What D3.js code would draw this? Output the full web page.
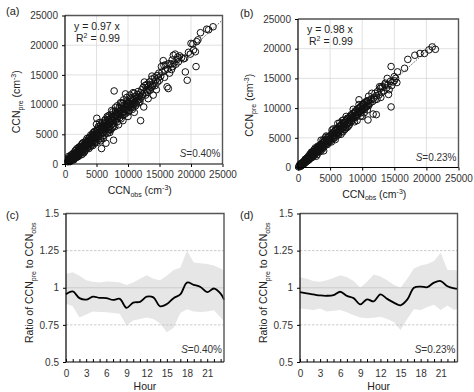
<!DOCTYPE html>
<html><head><meta charset="utf-8">
<script src="https://cdn.jsdelivr.net/npm/d3@7/dist/d3.min.js"></script>
<style>body{margin:0;background:#fff}svg{display:block;font-family:"Liberation Sans",Arial,sans-serif}</style>
</head><body><svg id="chart" width="474" height="392"></svg>
<script>
// ---------------- data ----------------
const scatterTicks = [0, 5000, 10000, 15000, 20000, 25000];
const ratioTicks = [0.5, 0.75, 1, 1.25, 1.5];
const ratioTickLabels = ["0.5", "0.75", "1", "1.25", "1.5"];
const hourTicks = [0, 3, 6, 9, 12, 15, 18, 21];
const hours = [0,1,2,3,4,5,6,7,8,9,10,11,12,13,14,15,16,17,18,19,20,21,22,23,23.5];

const ratioC = [0.956,0.975,0.93,0.92,0.94,0.932,0.93,0.918,0.925,0.865,0.90,0.905,0.94,0.935,0.875,0.89,0.93,0.955,1.035,1.02,1.005,0.97,0.995,0.96,0.92];
const upperC = [1.095,1.105,1.08,1.05,1.04,1.035,1.042,1.04,1.035,1.018,1.035,1.06,1.085,1.06,1.05,1.08,1.12,1.135,1.25,1.17,1.165,1.16,1.15,1.13,1.115];
const lowerC = [0.893,0.875,0.80,0.82,0.84,0.837,0.835,0.83,0.825,0.745,0.78,0.79,0.80,0.79,0.76,0.70,0.73,0.83,0.855,0.84,0.837,0.84,0.848,0.80,0.775];

const ratioD = [0.97,0.962,0.955,0.948,0.946,0.95,0.973,0.945,0.93,0.888,0.922,0.908,0.955,0.925,0.90,0.882,0.92,1.0,1.008,1.004,1.035,1.045,1.01,0.995,0.992];
const upperD = [1.07,1.06,1.045,1.04,1.05,1.065,1.085,1.07,1.045,1.00,1.04,1.09,1.075,1.05,1.02,1.0,1.06,1.13,1.15,1.16,1.18,1.235,1.12,1.12,1.115];
const lowerD = [0.86,0.855,0.85,0.86,0.84,0.845,0.85,0.835,0.815,0.80,0.795,0.798,0.805,0.79,0.77,0.715,0.79,0.855,0.85,0.87,0.885,0.85,0.88,0.85,0.86];

const slopeA = 0.97, slopeB = 0.98;

// [CCN_obs, CCN_pre] pairs, S = 0.40 %
const ptsA = [
[450,380],[520,600],[600,450],[650,700],[700,520],[750,900],[800,650],[850,800],[900,1050],[950,700],[1000,900],[1050,1200],[1100,800],[1150,1000],[1200,1350],[1250,1100],[1300,900],[1350,1500],[1400,1200],[1450,1000],[1500,1600],[1550,1350],[1600,1100],[1650,1800],[1700,1500],[1750,1250],[1800,1900],[1850,1600],[1900,1400],[1950,2100],[2000,1700],[2050,1900],[2100,2400],[2150,1500],[2200,2000],[2250,2300],[2300,1800],[2350,2600],[2400,2100],[2450,2300],[2500,2800],[700,1100],[1000,1500],[1300,1800],[1600,2200],[1900,2600],[2200,2800],[600,900],[900,600],[1200,700],[1500,900],[1800,1100],[2100,1300],[2400,1500],[2700,1600],
[2600,2400],[2700,2900],[2800,2200],[2900,3100],[3000,2700],[3100,3400],[3200,2900],[3300,2500],[3400,3600],[3500,3100],[3600,3300],[3700,3900],[3800,3000],[3900,3600],[4000,4200],[4100,3500],[4200,3900],[4300,4600],[4400,3700],[4500,4200],[4600,4900],[4700,4000],[4800,4500],[4900,5200],[5000,4300],[2800,3500],[3100,2100],[3500,4300],[3800,2600],[4100,4900],[4400,3100],[4700,5500],[5000,3600],[3300,3900],[3600,2700],[3900,4500],[4200,3200],[4500,5300],[4800,3800],[3000,1900],[2650,3300],[3450,3200],[4050,3800],[4650,4600],[4350,5000],[2950,2500],[3750,3300],[4250,4300],[4750,4300],[4950,4800],
[5100,5000],[5200,5600],[5300,4600],[5400,5300],[5500,6000],[5600,5000],[5700,5700],[5800,6300],[5900,5200],[6000,5900],[6100,6500],[6200,5500],[6300,6100],[6400,6800],[6500,5800],[6600,6400],[6700,7100],[6800,6000],[6900,6700],[7000,7400],[7100,6300],[7200,7000],[7300,7700],[7400,6600],[7500,7300],[7600,8000],[7700,6900],[7800,7600],[7900,8300],[8000,7200],[5050,7700],[5000,6700],[5800,2600],[6500,3500],[7700,4000],[7800,12300],[5600,4300],[6200,4800],[6800,5200],[7300,5800],[7900,6300],[5300,6300],[5900,6900],[6400,7500],[7000,8200],[7600,8800],[6100,4300],[7100,5300],[5500,7000],[6700,8000],[7400,9000],[5700,3900],[6300,7300],[6900,5600],[7500,6100],[8000,8800],[5150,5900],[6050,5200],[6850,7500],[7650,7300],
[8100,8100],[8200,7600],[8300,8600],[8400,8000],[8500,9100],[8600,8300],[8700,7800],[8800,9000],[8900,8500],[9000,9600],[9100,8700],[9200,8200],[9300,9300],[9400,8800],[9500,10000],[9600,9200],[9700,8600],[9800,9700],[9900,9200],[10000,10400],[10100,9600],[10200,9000],[10300,10100],[10400,9700],[10500,10900],[10600,10100],[10700,9500],[10800,10600],[10900,10000],[11000,11300],[11100,10400],[11200,9800],[11300,11000],[11400,10500],[11500,11700],[11600,10800],[11700,10300],[11800,11400],[11900,10900],[12000,12000],[8300,9800],[8800,10300],[9300,10800],[9800,11200],[10300,11600],[8500,6600],[9200,7300],[10000,8000],[11000,8700],[12000,7300],[9600,11800],[10800,12000],[8000,9500],[9000,10300],
[12100,11300],[12200,12500],[12300,11700],[12400,12900],[12500,9600],[12600,12000],[12700,13200],[12800,11600],[12900,12500],[13000,13400],[13100,12100],[13200,13000],[13300,12600],[13400,13800],[13500,12400],[13600,13300],[13700,12900],[13800,14300],[13900,13100],[14000,11600],[14100,13600],[14200,14500],[14300,13200],[14400,14100],[14500,12500],[14600,14900],[14700,13800],[14800,14500],[14900,15300],[15000,14100],[12600,13800],[13200,11000],[13800,14800],
[15200,14800],[15400,15500],[15600,17400],[15700,16600],[15800,14600],[15900,15800],[16000,16700],[16200,13000],[16300,16000],[16400,12700],[16500,16900],[16600,15300],[16800,16800],[17000,17500],[17100,16400],[17200,18300],[17300,17000],[17500,18500],[17600,16800],[17800,17600],[17900,18000],[18000,17200],[15300,16400],[16900,15900],
[18200,18200],[18500,17900],[18800,17700],[19000,17800],[19100,15500],[19400,14100],[19600,18800],[19900,18500],[20000,20300],[20300,20200],[20400,19200],[20700,18900],[20800,16400],[20900,20600],[21100,20900],[21500,22100],[22500,22700],[22800,22600],[23500,23100],
[600,1300],[800,400],[1100,1600],[1400,700],[1700,2300],[2000,1200],[2300,2900],[2600,1900],[2900,3600],[3200,2300],[3500,3800],[3800,4400],[4100,3000],[4400,4900],[4700,3500],[5000,5600],[5300,4000],[5600,6500],[5900,4600],[6200,7000],[6500,5200],[6800,7800],[7100,5800],[7400,8300],[7700,6400],[8000,8200],[8300,7100],[8600,9500],[8900,7600],[9200,10200],[9500,8400],[9800,10600],[10100,8800],[10400,11100],[10700,9200],[11000,11900],[11300,10100],[11600,12200],[11900,10500],[5200,5200],[5750,6000],[6250,6400],[6750,6700],[7250,7300],[7750,7900],[8250,8300],[8750,8800],[9250,9400],[9750,9900],[10250,10300],[10750,10800],[11250,11400],[3250,3300],[3750,3700],[4250,4100],[4750,4800],[2250,2200],[2750,2600],[1750,1800],[1250,1300]
];

// [CCN_obs, CCN_pre] pairs, S = 0.23 %
const ptsB = [
[100,100],[200,300],[300,150],[400,450],[500,300],[600,650],[700,500],[800,900],[900,700],[1000,1100],[1100,850],[1200,1300],[1300,1000],[1400,1500],[1500,1200],[1600,1750],[1700,1400],[1800,1950],[1900,1600],[2000,2200],[2100,1800],[2200,2500],[2300,2000],[2400,2700],[2500,2200],[300,500],[600,400],[900,1000],[1200,900],[1500,1700],[1800,1400],[2100,2600],[2400,1900],[700,800],[1000,700],[1300,1500],[1600,1200],[1900,2300],[2200,1700],[2500,3000],[450,250],[1150,1400],[1750,1650],[2350,2300],
[2600,2600],[2700,2300],[2800,3000],[2900,2600],[3000,3300],[3100,2800],[3200,3500],[3300,2900],[3400,3700],[3500,3100],[3600,3900],[3700,3300],[3800,4100],[3900,3500],[4000,4300],[4100,3700],[4200,4600],[4300,3900],[4400,4700],[4500,4100],[4600,5000],[4700,4300],[4800,5100],[4900,4500],[5000,5300],[2700,3300],[3100,3600],[3500,2700],[3900,4600],[4300,5100],[3000,2200],[3800,3100],[4600,3900],[3300,3400],[4100,4200],[4800,4700],[4000,2800],[2850,1900],[4400,5300],[3600,4600],
[5100,4800],[5200,5500],[5300,5000],[5400,5700],[5500,5200],[5600,6000],[5700,5400],[5800,6200],[5900,5600],[6000,6400],[6100,5800],[6200,6600],[6300,6000],[6400,6800],[6500,6200],[6600,7000],[6700,6400],[6800,7200],[6900,6600],[7000,7400],[7100,6800],[7200,7600],[7300,7000],[7400,7800],[7500,7200],[7600,8000],[7700,7400],[7800,8200],[7900,7600],[8000,8400],[5300,6300],[5800,4700],[6200,7400],[6700,5600],[7100,8000],[7600,6700],[5600,4900],[6500,7500],[7300,6400],[8000,7200],[5500,6500],[6000,5300],[6900,7900],[7500,8600],[6300,5500],[7800,6900],[5200,4300],[7000,6000],
[8100,8000],[8200,8600],[8300,7800],[8400,8800],[8500,8200],[8600,9100],[8700,8400],[8800,9200],[8900,8600],[9000,9400],[9100,8800],[9200,9700],[9300,9000],[9400,9900],[9500,9200],[9600,10100],[9700,9400],[9800,10300],[9900,9600],[10000,10500],[10100,9800],[10200,10600],[10300,10000],[10400,10900],[10500,10200],[10600,11000],[10700,10300],[10800,11100],[10900,10500],[11000,11300],[11200,10800],[11400,11500],[11600,11100],[11800,11700],[12000,11400],[9500,11400],[8600,9800],[9500,10600],[10300,9200],[10800,9700],[10900,8000],[12200,8900],[11700,9000],[9800,8700],[8800,7700],[11000,12000],[11500,12500],[12000,12500],[10000,8600],[9200,7900],
[12200,12100],[12400,12800],[12600,12200],[12800,13300],[13000,12600],[13200,13600],[13400,12900],[13600,14200],[13800,13400],[14000,13900],[14200,13100],[14400,14500],[14600,13800],[14800,14400],[15000,14600],[15200,15000],[15400,14300],[12300,11500],[12900,11800],[13900,15000],[12960,13600],[14500,17000],[14500,10200],[14100,12300],[15000,15300],[15500,16100],[13500,13900],[12700,13600],
[16600,16700],[17100,18200],[18200,18900],[19000,19200],[19700,19200],[20400,19800],[20900,20300],[21400,19900],
[500,700],[800,500],[1100,1300],[1400,1100],[1700,2000],[2000,1600],[2300,2600],[2600,2100],[2900,3200],[3200,2700],[3500,3800],[3800,3300],[4100,4500],[4400,3800],[4700,5200],[5000,4400],[5300,5800],[5600,5000],[5900,6500],[6200,5600],[6500,7000],[6800,6100],[7100,7600],[7400,6700],[7700,8300],[8000,7500],[8300,8900],[8600,8000],[8900,9500],[9200,8600],[9500,10000],[9800,9200],[10100,10700],[10400,9800],[10700,11200],[11000,10400],[3000,3000],[4000,3900],[5000,4900],[6000,5900],[7000,6900],[8000,7900],[9000,8800],[10000,9800],[11000,10800],[3500,3400],[4500,4400],[5500,5400],[6500,6400],[7500,7300],[8500,8400],[9500,9400],[1500,1500],[2500,2500]
];

// ---------------- drawing ----------------
const svg = d3.select("#chart");
const FONT_TICK = 10, FONT_TITLE = 10.5;

function frame(g, x0, x1, y0, y1) {
  g.append("path").attr("d", `M${x0},${y0}H${x1}V${y1}`)
    .attr("fill", "none").attr("stroke", "#555").attr("stroke-width", 1.4);
  g.append("path").attr("d", `M${x0},${y0}V${y1}H${x1}`)
    .attr("fill", "none").attr("stroke", "#000").attr("stroke-width", 1.2);
}

function yTitle(g, x, y, main, sub, tail, sup) {
  const t = g.append("text").attr("transform", `translate(${x},${y}) rotate(-90)`)
    .attr("text-anchor", "middle").attr("font-size", FONT_TITLE).attr("fill", "#222");
  t.append("tspan").text(main);
  t.append("tspan").attr("font-size", 7).attr("dy", 2.5).text(sub);
  t.append("tspan").attr("dy", -2.5).text(tail);
  if (sup) {
    t.append("tspan").attr("font-size", 7).attr("dy", -4).text(sup);
    t.append("tspan").attr("dy", 4).text(")");
  }
  return t;
}
function xTitle(g, x, y, main, sub, tail, sup) {
  const t = g.append("text").attr("x", x).attr("y", y)
    .attr("text-anchor", "middle").attr("font-size", FONT_TITLE).attr("fill", "#222");
  t.append("tspan").text(main);
  t.append("tspan").attr("font-size", 7).attr("dy", 2.5).text(sub);
  t.append("tspan").attr("dy", -2.5).text(tail);
  t.append("tspan").attr("font-size", 7).attr("dy", -4).text(sup);
  t.append("tspan").attr("dy", 4).text(")");
}

function scatterPanel(cfg) {
  const {x0, x1, y0, y1, pts, slope, lineMax, eq, sLabel, tag, tagX, tagY} = cfg;
  const g = svg.append("g");
  const x = d3.scaleLinear().domain([0, 25000]).range([x0, x1]);
  const y = d3.scaleLinear().domain([0, 25000]).range([y1, y0]);
  g.selectAll(".gx").data(scatterTicks.slice(1)).join("line")
    .attr("x1", d => x(d)).attr("x2", d => x(d)).attr("y1", y0).attr("y2", y1)
    .attr("stroke", "#d9d9d9").attr("stroke-width", 0.8);
  g.selectAll(".gy").data(scatterTicks.slice(1)).join("line")
    .attr("y1", d => y(d)).attr("y2", d => y(d)).attr("x1", x0).attr("x2", x1)
    .attr("stroke", "#d9d9d9").attr("stroke-width", 0.8);
  g.append("line").attr("x1", x(0)).attr("y1", y(0)).attr("x2", x(lineMax)).attr("y2", y(slope * lineMax))
    .attr("stroke", "#444").attr("stroke-width", 0.9).attr("stroke-dasharray", "1.5,1.5");
  g.selectAll("circle").data(pts).join("circle")
    .attr("cx", d => x(d[0])).attr("cy", d => y(d[1])).attr("r", 3.3)
    .attr("fill", "none").attr("stroke", "#111").attr("stroke-width", 1);
  frame(g, x0, x1, y0, y1);
  const ax = g.append("g").attr("transform", `translate(0,${y1})`)
    .call(d3.axisBottom(x).tickValues(scatterTicks).tickSize(3).tickPadding(4).tickFormat(d3.format("d")));
  const ay = g.append("g").attr("transform", `translate(${x0},0)`)
    .call(d3.axisLeft(y).tickValues(scatterTicks).tickSize(3).tickPadding(4).tickFormat(d3.format("d")));
  [ax, ay].forEach(a => {
    a.select(".domain").remove();
    a.selectAll("line").attr("stroke", "#000");
    a.selectAll("text").attr("font-size", FONT_TICK).attr("fill", "#333").attr("font-family", '"Liberation Sans",Arial,sans-serif');
  });
  yTitle(g, x0 - 45, (y0 + y1) / 2 + 12, "CCN", "pre", " (cm", "-3");
  xTitle(g, (x0 + x1) / 2 - 4, y1 + 30, "CCN", "obs", " (cm", "-3");
  g.append("text").attr("x", x0 + 9).attr("y", y0 + 14).attr("font-size", 10.5).attr("fill", "#222").text(eq);
  const r2 = g.append("text").attr("x", x0 + 11).attr("y", y0 + 26).attr("font-size", 10.5).attr("fill", "#222");
  r2.append("tspan").text("R");
  r2.append("tspan").attr("font-size", 7).attr("dy", -4).text("2");
  r2.append("tspan").attr("dy", 4).text(" = 0.99");
  const s = g.append("text").attr("x", x1 - 2).attr("y", y1 - 7).attr("text-anchor", "end").attr("font-size", FONT_TICK).attr("fill", "#333");
  s.append("tspan").attr("font-style", "italic").text("S");
  s.append("tspan").text(sLabel);
  svg.append("text").attr("x", tagX).attr("y", tagY).attr("font-size", 11).attr("fill", "#222").text(tag);
}

function ratioPanel(cfg) {
  const {x0, x1, y0, y1, ratio, upper, lower, sLabel, tag, tagX, tagY} = cfg;
  const g = svg.append("g");
  const x = d3.scaleLinear().domain([0, 23.5]).range([x0, x1]);
  const y = d3.scaleLinear().domain([0.5, 1.5]).range([y1, y0]);
  const data = hours.map((h, i) => ({h, r: ratio[i], u: upper[i], l: lower[i]}));
  g.append("path").datum(data)
    .attr("d", d3.area().x(d => x(d.h)).y0(d => y(d.l)).y1(d => y(d.u)))
    .attr("fill", "#e6e6e6");
  [0.75, 1.25].forEach(v => g.append("line").attr("x1", x0).attr("x2", x1).attr("y1", y(v)).attr("y2", y(v))
    .attr("stroke", "#bdbdbd").attr("stroke-width", 0.8).attr("stroke-dasharray", "2.5,1.5"));
  g.append("line").attr("x1", x0).attr("x2", x1).attr("y1", y(1)).attr("y2", y(1))
    .attr("stroke", "#c8c8c8").attr("stroke-width", 0.9);
  g.append("path").datum(data)
    .attr("d", d3.line().x(d => x(d.h)).y(d => y(d.r)).curve(d3.curveCatmullRom.alpha(0.5)))
    .attr("fill", "none").attr("stroke", "#000").attr("stroke-width", 1.8);
  frame(g, x0, x1, y0, y1);
  const ax = g.append("g").attr("transform", `translate(0,${y1})`)
    .call(d3.axisBottom(x).tickValues(d3.range(0, 24)).tickSizeInner(-3).tickSizeOuter(0).tickPadding(8)
      .tickFormat(d => hourTicks.includes(d) ? d : ""));
  const ay = g.append("g").attr("transform", `translate(${x0},0)`)
    .call(d3.axisLeft(y).tickValues(ratioTicks).tickSize(3).tickPadding(4).tickFormat((d, i) => ratioTickLabels[i]));
  [ax, ay].forEach(a => {
    a.select(".domain").remove();
    a.selectAll("line").attr("stroke", "#000");
    a.selectAll("text").attr("font-size", FONT_TICK).attr("fill", "#333").attr("font-family", '"Liberation Sans",Arial,sans-serif');
  });
  const t = g.append("text").attr("transform", `translate(${x0 - 33},${(y0 + y1) / 2 - 5}) rotate(-90)`)
    .attr("text-anchor", "middle").attr("font-size", FONT_TITLE).attr("fill", "#222");
  t.append("tspan").text("Ratio of CCN");
  t.append("tspan").attr("font-size", 7).attr("dy", 2.5).text("pre");
  t.append("tspan").attr("dy", -2.5).text(" to CCN");
  t.append("tspan").attr("font-size", 7).attr("dy", 2.5).text("obs");
  g.append("text").attr("x", (x0 + x1) / 2).attr("y", y1 + 28).attr("text-anchor", "middle")
    .attr("font-size", FONT_TITLE).attr("fill", "#222").text("Hour");
  const s = g.append("text").attr("x", x1 - 2).attr("y", y1 - 9).attr("text-anchor", "end").attr("font-size", FONT_TICK).attr("fill", "#333");
  s.append("tspan").attr("font-style", "italic").text("S");
  s.append("tspan").text(sLabel);
  svg.append("text").attr("x", tagX).attr("y", tagY).attr("font-size", 11).attr("fill", "#222").text(tag);
}

scatterPanel({x0: 65, x1: 222.5, y0: 15.5, y1: 164, pts: ptsA, slope: slopeA, lineMax: 25000,
  eq: "y = 0.97 x", sLabel: "=0.40%", tag: "(a)", tagX: 6, tagY: 15});
scatterPanel({x0: 298, x1: 458.5, y0: 19, y1: 167.5, pts: ptsB, slope: slopeB, lineMax: 21500,
  eq: "y = 0.98 x", sLabel: "=0.23%", tag: "(b)", tagX: 240, tagY: 17});
ratioPanel({x0: 66, x1: 224, y0: 213.5, y1: 362, ratio: ratioC, upper: upperC, lower: lowerC,
  sLabel: "=0.40%", tag: "(c)", tagX: 6, tagY: 219});
ratioPanel({x0: 300, x1: 457.5, y0: 213.5, y1: 362, ratio: ratioD, upper: upperD, lower: lowerD,
  sLabel: "=0.23%", tag: "(d)", tagX: 240, tagY: 219});
</script></body></html>
